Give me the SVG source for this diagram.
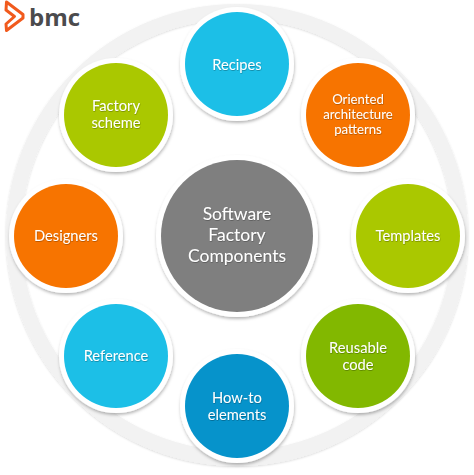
<svg xmlns="http://www.w3.org/2000/svg" width="474" height="475" viewBox="0 0 474 475">
<defs>
<filter id="s" x="-20%" y="-20%" width="140%" height="140%"><feDropShadow dx="0.5" dy="2" stdDeviation="1.8" flood-color="#000" flood-opacity="0.28"/></filter>
<filter id="r" x="-10%" y="-10%" width="120%" height="120%"><feDropShadow dx="0" dy="1" stdDeviation="1" flood-color="#000" flood-opacity="0.15"/></filter>
<filter id="ts" x="-20%" y="-20%" width="140%" height="140%"><feDropShadow dx="0.4" dy="0.7" stdDeviation="0.5" flood-color="#000" flood-opacity="0.35"/></filter>
</defs>
<style>
text{font-family:Lato,"Liberation Sans",sans-serif;fill:#fff;text-anchor:middle;font-size:14.7px;filter:url(#ts)}
.o{fill:#fff;filter:url(#s)}
.big{font-size:17.5px}
.sm{font-size:13.2px}
.logo{font-family:"Open Sans","Liberation Sans",sans-serif;font-weight:700;fill:#4b4b4d;font-size:24px;text-anchor:start;filter:none}
</style>
<rect width="474" height="475" fill="#fff"/>
<g id="logo">
<path d="M6.5 2 L23 14.5 L23 18 L6.5 30.5 L6 24 L14.5 16.5 L6 10 Z" fill="none" stroke="#f15a1d" stroke-width="3" stroke-linejoin="round"/>
<text class="logo" x="29" y="26">bmc</text>
</g>
<g id="connectors">
<circle cx="237" cy="235" r="223.5" fill="none" stroke="#f2f2f2" stroke-width="15" filter="url(#r)"/>
</g>
<g id="center"><circle class="o" cx="237" cy="236" r="81"/><circle cx="237" cy="236" r="76" fill="#7f7f7f"/>
<text class="big" x="237" y="220">Software</text><text class="big" x="237" y="241">Factory</text><text class="big" x="237" y="262">Components</text></g>
<g id="recipes"><circle class="o" cx="237" cy="64" r="57"/><circle cx="237" cy="64" r="52" fill="#1cbfe7"/><text x="237" y="70">Recipes</text></g>
<g id="oriented"><circle class="o" cx="358" cy="115" r="57"/><circle cx="358" cy="115" r="52" fill="#f77400"/>
<text class="sm" x="358" y="104">Oriented</text><text class="sm" x="358" y="119">architecture</text><text class="sm" x="358" y="134">patterns</text></g>
<g id="templates"><circle class="o" cx="408" cy="236" r="57"/><circle cx="408" cy="236" r="52" fill="#aac800"/><text x="408" y="241">Templates</text></g>
<g id="reusable"><circle class="o" cx="358" cy="356" r="57"/><circle cx="358" cy="356" r="52" fill="#82b800"/><text x="358" y="352.5">Reusable</text><text x="358" y="369.5">code</text></g>
<g id="howto"><circle class="o" cx="237" cy="406" r="57"/><circle cx="237" cy="406" r="52" fill="#0693cb"/><text x="237" y="402.5">How-to</text><text x="237" y="419.5">elements</text></g>
<g id="reference"><circle class="o" cx="116" cy="356" r="57"/><circle cx="116" cy="356" r="52" fill="#1cbfe7"/><text x="116" y="361">Reference</text></g>
<g id="designers"><circle class="o" cx="66" cy="236" r="57"/><circle cx="66" cy="236" r="52" fill="#f77400"/><text x="66" y="241">Designers</text></g>
<g id="factory"><circle class="o" cx="116" cy="115" r="57"/><circle cx="116" cy="115" r="52" fill="#aac800"/><text x="116" y="111">Factory</text><text x="116" y="128">scheme</text></g>
</svg>
